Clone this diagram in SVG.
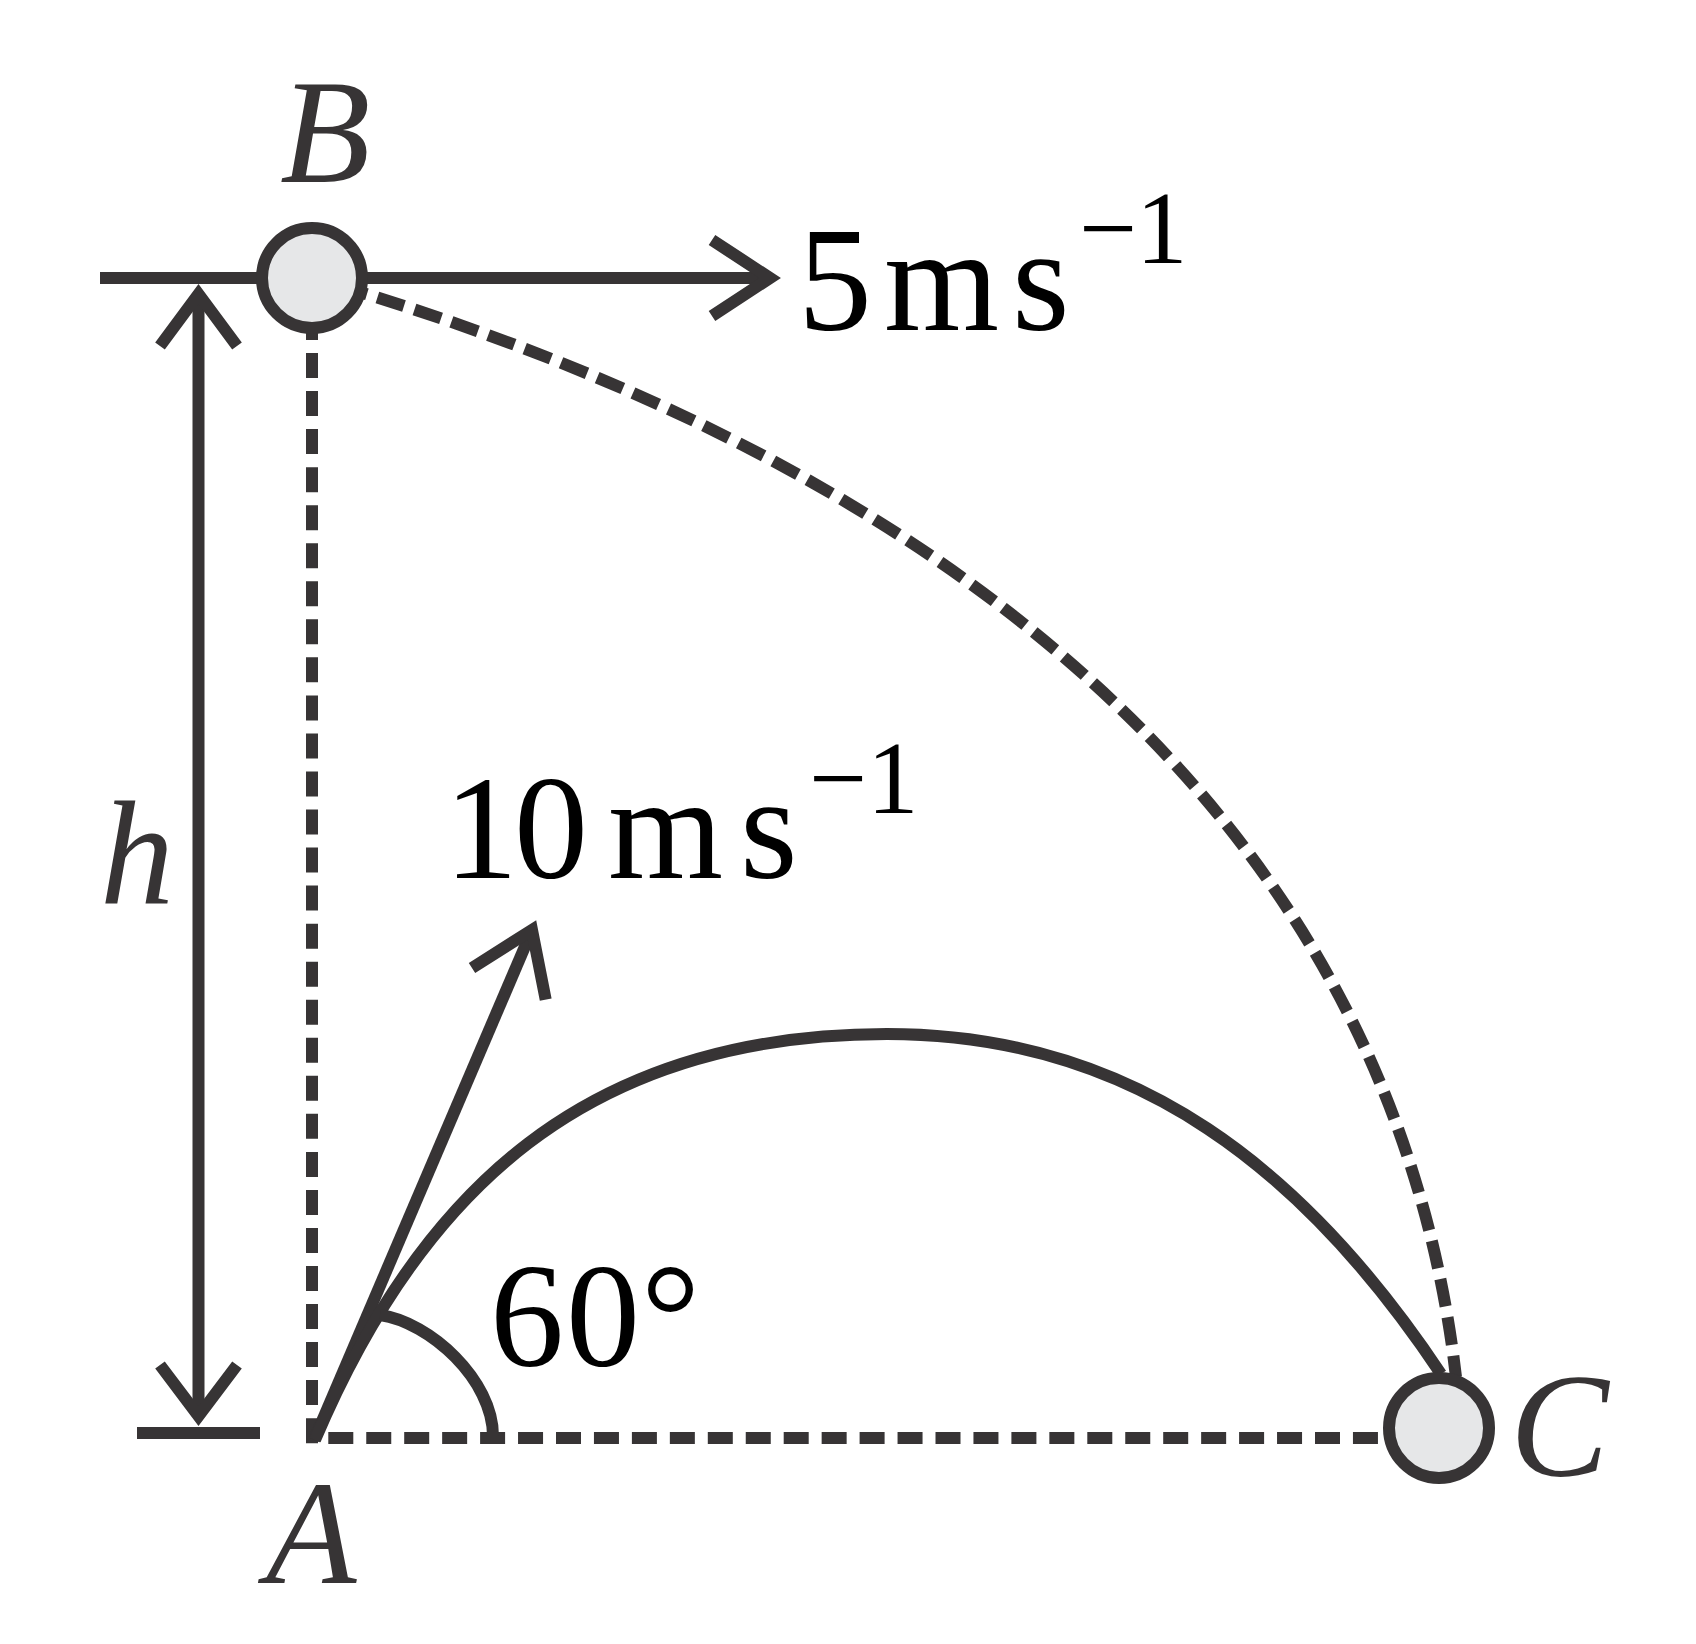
<svg xmlns="http://www.w3.org/2000/svg" width="1696" height="1644" viewBox="0 0 1696 1644">
<style>
.ln{fill:none;stroke:#373435;stroke-width:12;stroke-linejoin:miter;stroke-miterlimit:10}
.dash{fill:none;stroke:#373435;stroke-width:12}
.ball{fill:#e6e7e8;stroke:#373435;stroke-width:12}
.lab{font-style:italic;font-size:148px;fill:#373435}
.num{font-size:148px;fill:#000}
.sup{font-size:103px}
</style>
<rect width="1696" height="1644" fill="#fff"/>
<g id="connectors">
  <line class="ln" x1="100" y1="278" x2="312" y2="278"/>
  <line class="ln" x1="137" y1="1433" x2="260" y2="1433"/>
  <line class="ln" x1="198.5" y1="294" x2="198.5" y2="1416"/>
  <polyline class="ln" points="160,346 198.5,294 237,346"/>
  <polyline class="ln" points="160,1365 198.5,1416 237,1365"/>
  <line class="dash" x1="312" y1="315" x2="312" y2="1444" stroke-dasharray="25 13.04"/>
  <line class="dash" x1="328.3" y1="1438" x2="1390" y2="1438" stroke-dasharray="25 12.95"/>
  <line class="ln" x1="312" y1="278" x2="766" y2="278"/>
  <polyline class="ln" points="712,240 770,278 712,316"/>
  <line class="ln" x1="314" y1="1440" x2="532" y2="930"/>
  <polyline class="ln" points="472,968 532,930 545.7,999.7"/>
  <path class="dash" d="M340 286 C990 481 1395 850 1456 1377" stroke-dasharray="28 11"/>
  <path class="ln" d="M315 1440 C421 1190 587 1034 887 1034 C1137 1034 1307 1173 1441 1374"/>
  <path class="ln" d="M380 1315 C430 1322 493 1380 493 1436"/>
</g>
<g id="node-B">
  <circle class="ball" cx="312" cy="278" r="50"/>
  <text class="lab" font-family="Liberation Serif, Times New Roman, Times, serif" x="280" y="182">B</text>
</g>
<g id="node-C">
  <circle class="ball" cx="1439" cy="1428" r="50"/>
  <text class="lab" font-family="Liberation Serif, Times New Roman, Times, serif" x="1510" y="1476">C</text>
</g>
<g id="node-A">
  <text class="lab" font-family="Liberation Serif, Times New Roman, Times, serif" x="266" y="1583">A</text>
</g>
<g id="label-h">
  <text class="lab" font-family="Liberation Serif, Times New Roman, Times, serif" x="100" y="904">h</text>
</g>
<g id="label-v5">
  <text class="num" font-family="Liberation Serif, Times New Roman, Times, serif" y="330"><tspan x="798">5</tspan><tspan x="884">m</tspan><tspan x="1012">s</tspan><tspan class="sup" x="1079" y="263">−</tspan><tspan class="sup" x="1136" y="263">1</tspan></text>
</g>
<g id="label-v10">
  <text class="num" font-family="Liberation Serif, Times New Roman, Times, serif" y="878"><tspan x="444">1</tspan><tspan x="514">0</tspan><tspan x="608">m</tspan><tspan x="740">s</tspan><tspan class="sup" x="809" y="813">−</tspan><tspan class="sup" x="867" y="813">1</tspan></text>
</g>
<g id="label-angle">
  <text class="num" font-family="Liberation Serif, Times New Roman, Times, serif" y="1366"><tspan x="490">6</tspan><tspan x="566">0</tspan><tspan x="641">°</tspan></text>
</g>
</svg>
